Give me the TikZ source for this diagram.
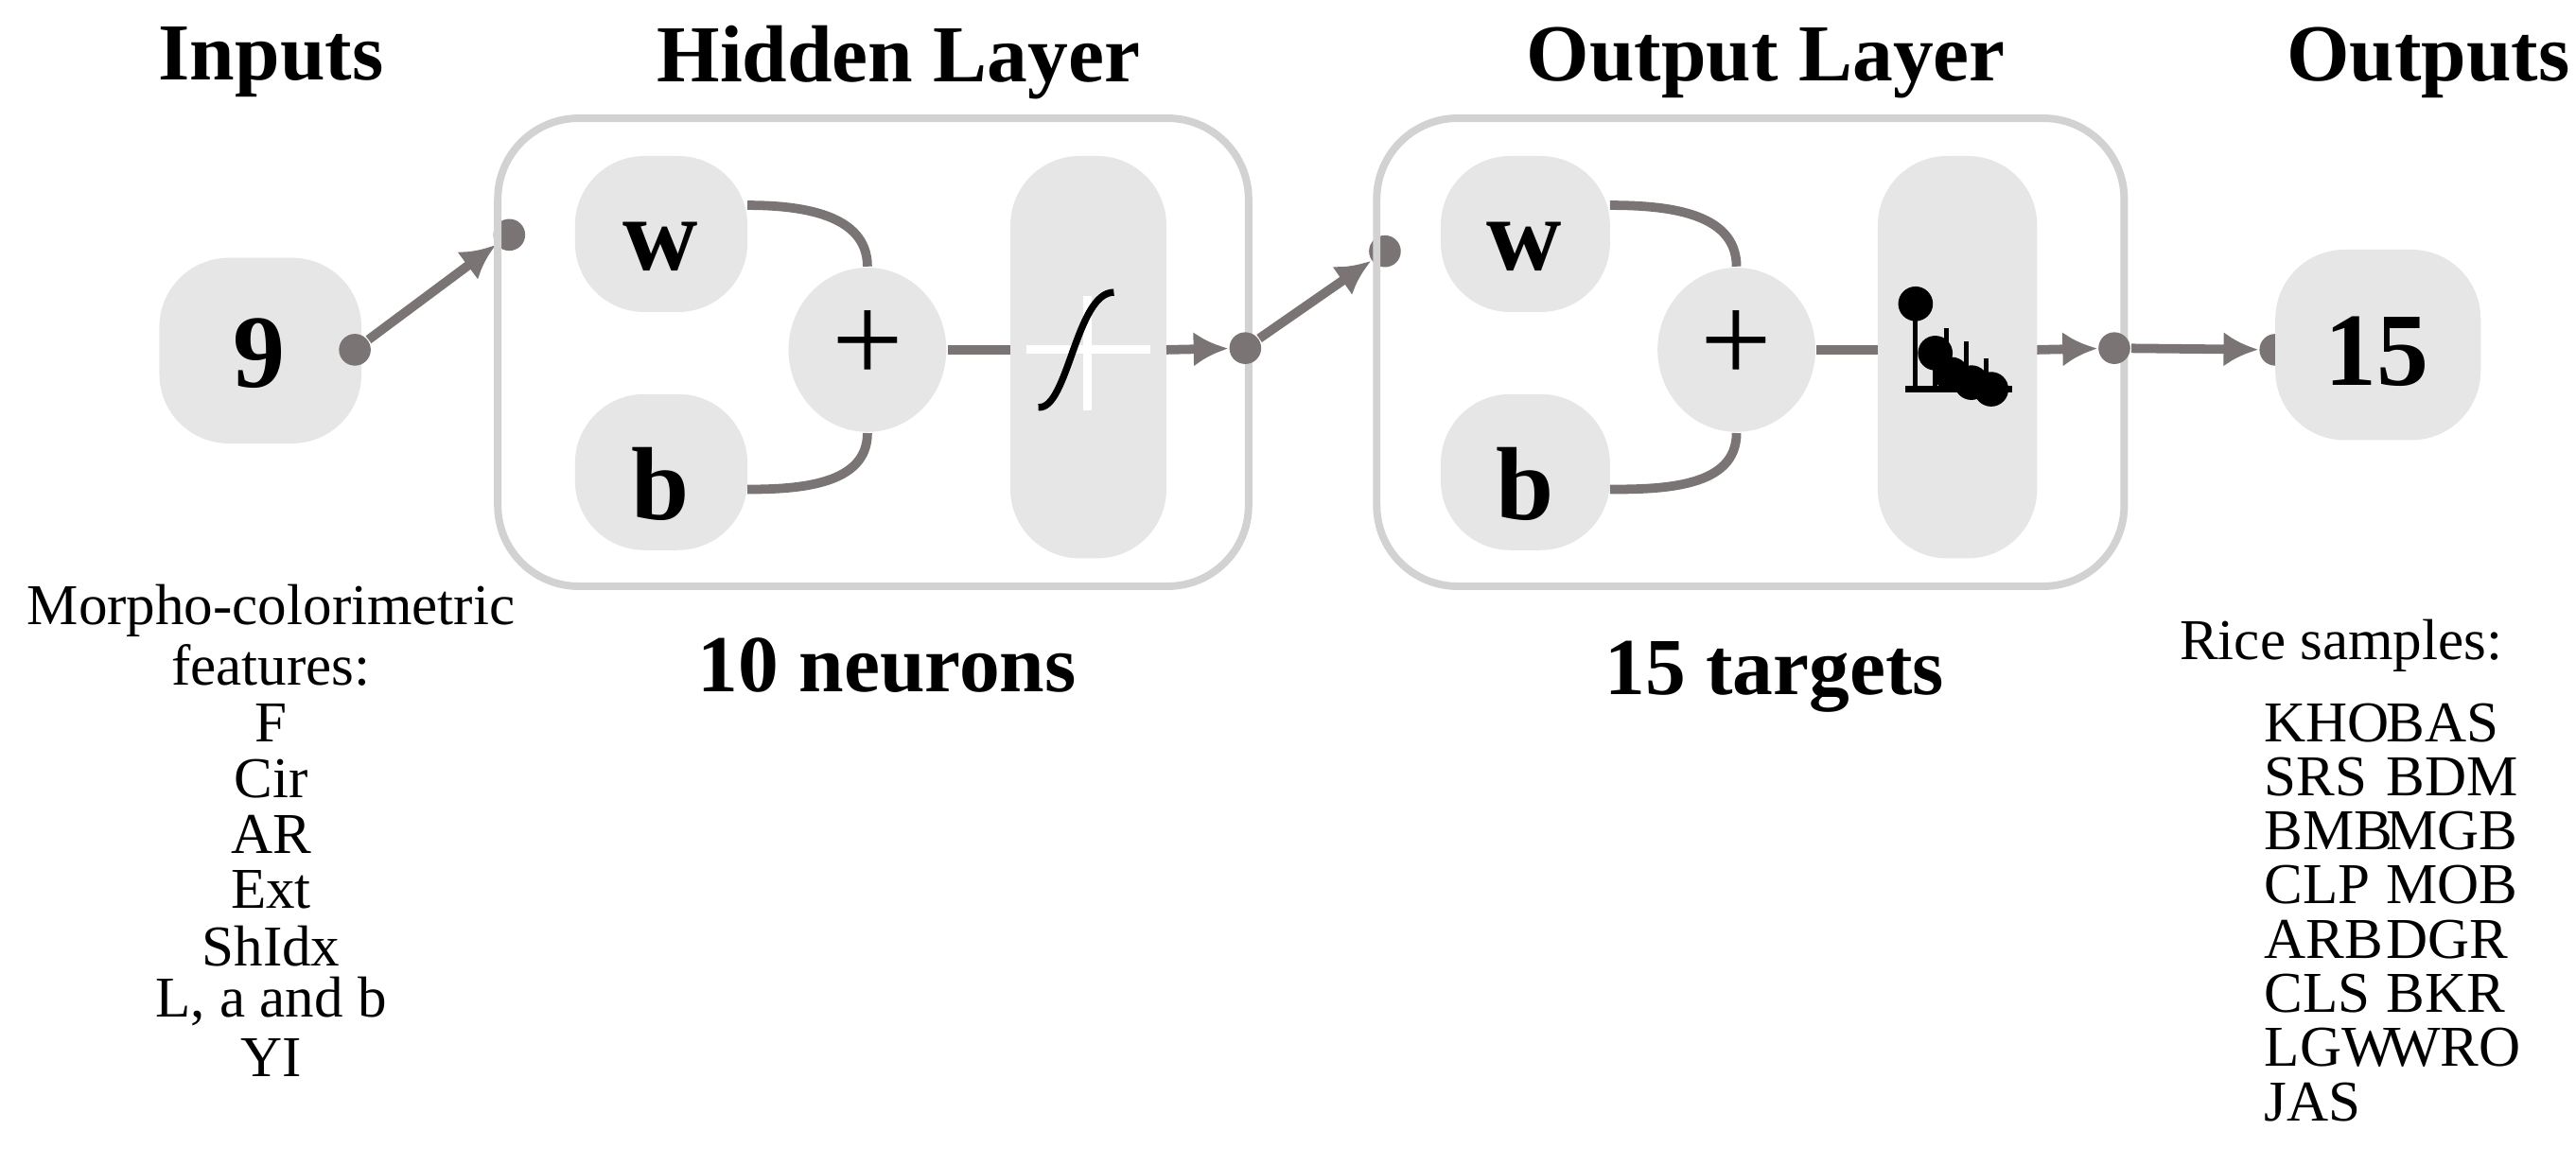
\documentclass[tikz,border=0pt]{standalone}
\usepackage{fontspec}
\setmainfont{Liberation Serif}
\usetikzlibrary{arrows.meta,shapes.geometric}
\begin{document}
\begin{tikzpicture}[x=0.01cm,y=-0.01cm,
  box/.style={fill=boxg,rounded corners=12pt,draw=none},
  frame/.style={draw=frameg,line width=1.3pt,rounded corners=14pt},
  con/.style={draw=lineg,line width=1.6pt},
  dot/.style={circle,fill=lineg,inner sep=0pt,minimum size=5.5pt},
  arr/.style={con,-{Latex[length=6pt,width=6pt]}},
  ttl/.style={font=\bfseries\fontsize{14}{16}\selectfont},
  big/.style={font=\bfseries\fontsize{18}{20}\selectfont},
  sm/.style={font=\fontsize{10}{12}\selectfont},
  sum/.style={ellipse,fill=boxg,inner sep=0pt,minimum width=0.96cm,minimum height=1cm}]
\definecolor{boxg}{HTML}{E6E6E6}
\definecolor{frameg}{HTML}{D2D2D2}
\definecolor{lineg}{HTML}{7A7474}
\useasboundingbox (0,0) rectangle (1568,709);
% titles
\node[ttl] (t1) at (165,38) {Inputs};
\node[ttl] (t2) at (547,38) {Hidden Layer};
\node[ttl] (t3) at (1075,38) {Output Layer};
\node[ttl] (t4) at (1478,38) {Outputs};
% input
\path[box] (97,157) rectangle (220,270);
\node[big] (nine) at (158,215) {9};
\node[dot] (d0) at (216,213) {};
\node[dot] (d1) at (310,143) {};
\draw[arr] (d0) -- (d1);
% hidden frame
\draw[frame] (303,72) rectangle (760,357);
\path[box] (350,95) rectangle (455,190); \node[big] (w1) at (402,150) {w};
\path[box] (350,240) rectangle (455,335); \node[big] (b1) at (402,295) {b};
\node[sum] (p1) at (528,213) {};
\node[font=\fontsize{22}{22}\selectfont] at (528,211) {+};
\coordinate (w1e) at (455,125); \coordinate (b1e) at (455,298);
\draw[con] (w1e) to[out=0,in=90] (p1.north);
\draw[con] (b1e) to[out=0,in=-90] (p1.south);
\path[box] (615,95) rectangle (710,340);
\coordinate (s1) at (615,213); \coordinate (s1e) at (710,213);
\draw[con] (p1.east) -- (s1);
\draw[white,line width=1.5pt] (625,213) -- (700,213) (662,180) -- (662,250);
\draw[line width=1.2pt] (632,248) .. controls (650,250) and (655,178) .. (678,178);
\node[dot] (d2) at (758,212) {};
\draw[arr] (s1e) -- (d2);
\node[dot] (d3) at (843,153) {};
\draw[arr] (d2) -- (d3);
% output frame
\draw[frame] (838,72) rectangle (1293,357);
\path[box] (877,95) rectangle (980,190); \node[big] (w2) at (928,150) {w};
\path[box] (877,240) rectangle (980,335); \node[big] (b2) at (928,295) {b};
\node[sum] (p2) at (1057,213) {};
\node[font=\fontsize{22}{22}\selectfont] at (1057,211) {+};
\coordinate (w2e) at (980,125); \coordinate (b2e) at (980,298);
\draw[con] (w2e) to[out=0,in=90] (p2.north);
\draw[con] (b2e) to[out=0,in=-90] (p2.south);
\path[box] (1143,95) rectangle (1240,340);
\coordinate (s2) at (1143,213); \coordinate (s2e) at (1240,213);
\draw[con] (p2.east) -- (s2);
% softmax icon
\draw[line width=1.2pt] (1160,237) -- (1225,237);
\foreach \x/\y in {1166/185,1178/215,1188/228,1200/233,1212/237}{
  \draw[line width=0.8pt] (\x,237) -- (\x,\y);
  \fill (\x,\y) circle (3pt);}
\draw[line width=0.8pt] (1185,200)--(1185,237) (1197,208)--(1197,237) (1209,218)--(1209,237);
\node[dot] (d4) at (1287,212) {};
\draw[arr] (s2e) -- (d4);
\node[dot] (d5) at (1385,213) {};
\draw[arr] (d4) -- (d5);
\path[box] (1385,152) rectangle (1510,268);
\node[big] (f15) at (1447,214) {15};
% labels
\node[ttl] (n1) at (540,405) {10 neurons};
\node[ttl] (n2) at (1080,412) {15 targets};
\node[sm] at (165,372) {Morpho-colorimetric};
\node[sm] at (165,405) {features:};
\foreach \t [count=\i] in {F,Cir,AR,Ext,ShIdx,{L, a and b},YI}
  \node[sm] at (165,406+34*\i) {\t};
\node[sm] at (1425,393) {Rice samples:};
\foreach \t [count=\i] in {KHO,SRS,BMB,CLP,ARB,CLS,LGW,JAS}
  \node[sm,anchor=west] at (1366,407+33*\i) {\t};
\foreach \t [count=\i] in {BAS,BDM,MGB,MOB,DGR,BKR,WRO}
  \node[sm,anchor=west] at (1440,407+33*\i) {\t};
\end{tikzpicture}
\end{document}
